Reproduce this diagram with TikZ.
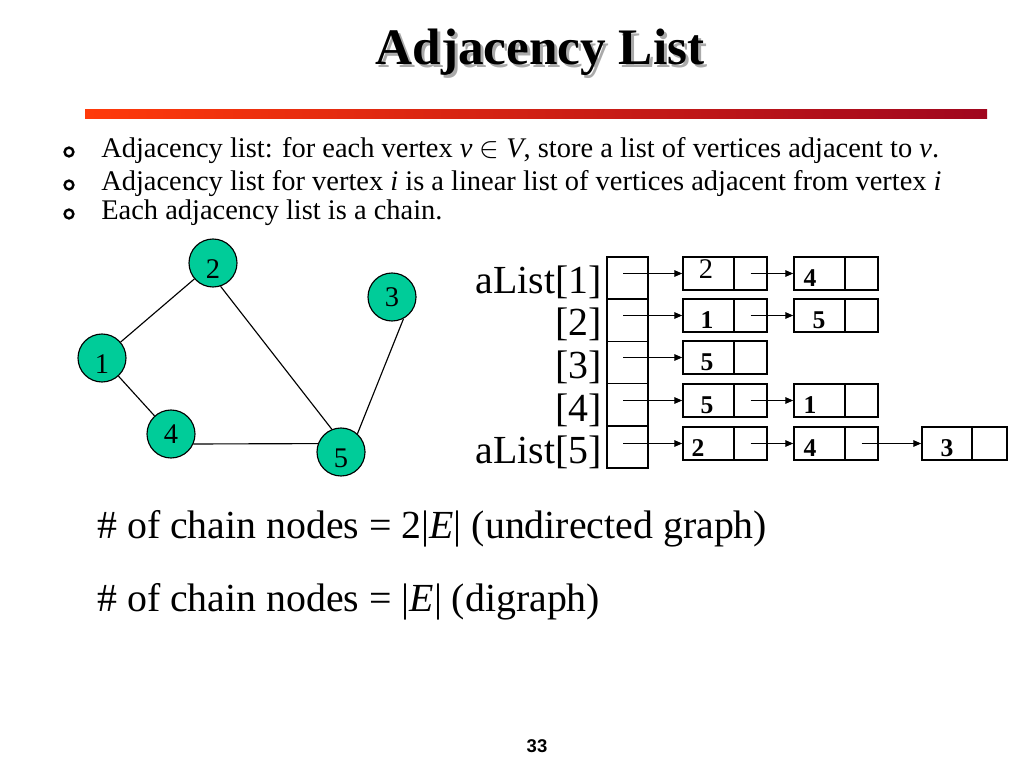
\documentclass[tikz,border=0pt]{standalone}
\usepackage{fontspec}
\setmainfont{Liberation Serif}
\newfontfamily\pagenumfont{Liberation Sans}
\usetikzlibrary{arrows.meta}
\definecolor{vfill}{RGB}{0,204,153}
\definecolor{barL}{RGB}{255,58,10}
\definecolor{barR}{RGB}{160,6,30}
\definecolor{shadowgray}{RGB}{170,170,170}
\begin{document}
\begin{tikzpicture}[x=0.703125pt, y=-0.703125pt,
  vertex/.style={circle, draw=black, line width=0.8pt, fill=vfill, minimum size=33.75pt,
    inner sep=0pt, font=\fontsize{20}{24}\selectfont, text height=13.5pt, text depth=0pt},
  lowv/.style={text height=21.9pt},
  edge/.style={line width=0.8pt},
  bulletring/.style={circle, draw=black, line width=1.7pt, minimum size=6.2pt, inner sep=0pt},
  bullettext/.style={anchor=base west, inner sep=0pt, font=\fontsize{20}{24}\selectfont},
  arr/.style={rectangle, draw=black, line width=1.1pt, minimum width=28.8pt, minimum height=29.6pt, inner sep=0pt},
  dcell/.style={rectangle, draw=black, line width=1.1pt, minimum width=35.9pt, minimum height=23.2pt, inner sep=0pt},
  lcell/.style={rectangle, draw=black, line width=1.1pt, minimum width=23.2pt, minimum height=23.2pt, inner sep=0pt},
  ptr/.style={line width=0.8pt, -{Triangle[length=5.5pt,width=4.6pt]}},
  bnum/.style={anchor=base, inner sep=0pt, font=\fontsize{18}{21}\selectfont\bfseries},
  pnum/.style={anchor=base, inner sep=0pt, font=\fontsize{20}{24}\selectfont},
  idx/.style={anchor=base east, inner sep=0pt, font=\fontsize{28}{33}\selectfont},
  bigtext/.style={anchor=base west, inner sep=0pt, font=\fontsize{28}{33}\selectfont}
]
% canvas
\fill[white] (0,0) rectangle (1024,768);
\useasboundingbox (0,0) rectangle (1024,768);

% title with shadow
\node[anchor=base, inner sep=0pt, text=shadowgray, font=\fontsize{36}{43}\selectfont\bfseries] (titleshadow) at (543,68) {Adjacency List};
\node[anchor=base, inner sep=0pt, font=\fontsize{36}{43}\selectfont\bfseries] (title) at (540,65) {Adjacency List};

% gradient bar
\shade[left color=barL, right color=barR] (85,110) rectangle (987,119);

% bullets
\node[bulletring] (b1) at (69,152) {};
\node[bulletring] (b2) at (69,185) {};
\node[bulletring] (b3) at (69,214) {};
\node[bullettext] (t1) at (101,158) {Adjacency list: for each vertex \textit{v} $\in$ \textit{V}, store a list of vertices adjacent to \textit{v}.};
\node[bullettext] (t2) at (101,191) {Adjacency list for vertex \textit{i} is a linear list of vertices adjacent from vertex \textit{i}};
\node[bullettext] (t3) at (101,220) {Each adjacency list is a chain.};

% graph
\node[vertex, lowv] (v1) at (102,358) {1};
\node[vertex, lowv] (v2) at (213,263) {2};
\node[vertex] (v3) at (392,297) {3};
\node[vertex] (v4) at (171,434) {4};
\node[vertex, lowv] (v5) at (341,452) {5};
\draw[edge] (v1) -- (v2);
\draw[edge] (v1) -- (v4);
\draw[edge] (v2.-72) -- (v5.112);
\draw[edge] (v3.-62) -- (v5.48);
\draw[edge] (v4.-24) -- (v5.160);

% index labels
\node[idx] (L1) at (602,294) {aList[1]};
\node[idx] (L2) at (602,336) {[2]};
\node[idx] (L3) at (602,378) {[3]};
\node[idx] (L4) at (602,421) {[4]};
\node[idx] (L5) at (602,463) {aList[5]};

% array cells
\node[arr] (a1) at (627.5,278.1) {};
\node[arr] (a2) at (627.5,320.3) {};
\node[arr] (a3) at (627.5,362.5) {};
\node[arr] (a4) at (627.5,404.7) {};
\node[arr] (a5) at (627.5,446.9) {};

% chain nodes: row 1
\node[dcell] (d11) at (708.5,273.5) {};
\node[lcell] (l11) at (750.5,273.5) {};
\node[dcell] (d12) at (819.5,273.5) {};
\node[lcell] (l12) at (861.5,273.5) {};
% row 2
\node[dcell] (d21) at (708.5,315.5) {};
\node[lcell] (l21) at (750.5,315.5) {};
\node[dcell] (d22) at (819.5,315.5) {};
\node[lcell] (l22) at (861.5,315.5) {};
% row 3
\node[dcell] (d31) at (708.5,357.5) {};
\node[lcell] (l31) at (750.5,357.5) {};
% row 4
\node[dcell] (d41) at (708.5,400.5) {};
\node[lcell] (l41) at (750.5,400.5) {};
\node[dcell] (d42) at (819.5,400.5) {};
\node[lcell] (l42) at (861.5,400.5) {};
% row 5
\node[dcell] (d51) at (708.5,443.5) {};
\node[lcell] (l51) at (750.5,443.5) {};
\node[dcell] (d52) at (819.5,443.5) {};
\node[lcell] (l52) at (861.5,443.5) {};
\node[dcell, minimum width=35.2pt] (d53) at (947,443.5) {};
\node[lcell, minimum width=24.6pt] (l53) at (989.5,443.5) {};

% values
\node[pnum] (n11) at (706,279) {2};
\node[bnum] (n12) at (810,286.5) {4};
\node[bnum] (n21) at (707,328.5) {1};
\node[bnum] (n22) at (819,328.5) {5};
\node[bnum] (n31) at (707,370.5) {5};
\node[bnum] (n41) at (707,413.5) {5};
\node[bnum] (n42) at (810,413.5) {1};
\node[bnum] (n51) at (698,456.5) {2};
\node[bnum] (n52) at (810,456.5) {4};
\node[bnum] (n53) at (947,456.5) {3};

% pointer start points in the array cells
\coordinate (s1) at (623,273.5);
\coordinate (s2) at (623,315.5);
\coordinate (s3) at (623,357.5);
\coordinate (s4) at (623,400.5);
\coordinate (s5) at (623,443.5);

% pointers
\draw[ptr] (s1) -- (d11.west);
\draw[ptr] (l11.center) -- (d12.west);
\draw[ptr] (s2) -- (d21.west);
\draw[ptr] (l21.center) -- (d22.west);
\draw[ptr] (s3) -- (d31.west);
\draw[ptr] (s4) -- (d41.west);
\draw[ptr] (l41.center) -- (d42.west);
\draw[ptr] (s5) -- (d51.west);
\draw[ptr] (l51.center) -- (d52.west);
\draw[ptr] (l52.center) -- (d53.west);

% formulas
\node[bigtext] (f1) at (97,538) {\# of chain nodes = 2|\textit{E}| (undirected graph)};
\node[bigtext] (f2) at (97,611) {\# of chain nodes = |\textit{E}| (digraph)};

% page number
\node[anchor=base, inner sep=0pt, font=\pagenumfont\fontsize{13}{15}\selectfont\bfseries] (pg) at (537,752) {33};
\end{tikzpicture}
\end{document}
